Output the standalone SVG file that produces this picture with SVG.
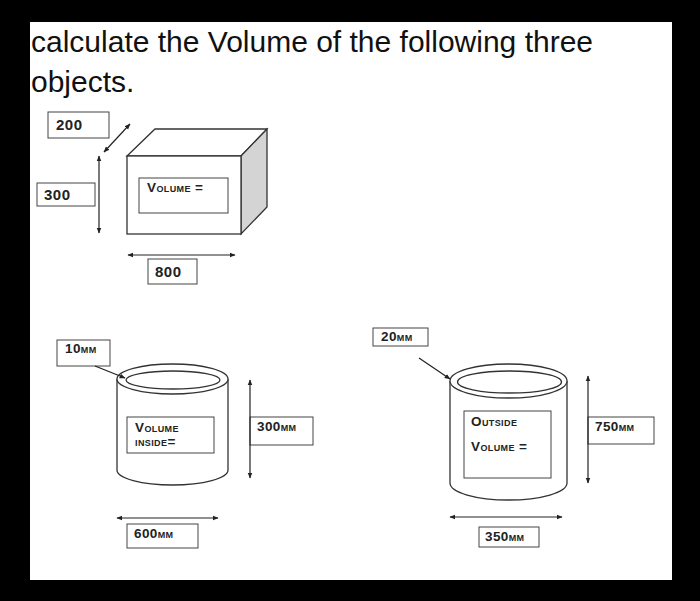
<svg xmlns="http://www.w3.org/2000/svg" width="700" height="601" viewBox="0 0 700 601">
<defs>
<marker id="ah" viewBox="0 0 10 10" refX="9" refY="5" markerWidth="5" markerHeight="5" orient="auto-start-reverse"><path d="M0,1 L10,5 L0,9 z" fill="#222"/></marker>
<style>
.s{fill:#fff;stroke:#333;stroke-width:1.3}
.l{fill:#fff;stroke:#444;stroke-width:1}
.t{font-family:"Liberation Sans",Arial,sans-serif;font-weight:bold;font-variant:small-caps;font-size:13.5px;letter-spacing:0.4px;fill:#222}
.n{font-family:"Liberation Sans",Arial,sans-serif;font-weight:bold;font-size:15px;letter-spacing:0.5px;fill:#222}
.a{stroke:#222;stroke-width:1.2;fill:none;marker-start:url(#ah);marker-end:url(#ah)}
.p{stroke:#222;stroke-width:1.2;fill:none;marker-end:url(#ah)}
</style>
</defs>
<rect width="700" height="601" fill="#000"/>
<rect x="30" y="22" width="642" height="558" fill="#fff"/>
<text x="31" y="52" font-family="Liberation Sans,Arial,sans-serif" font-size="30" fill="#111">calculate the Volume of the following three</text>
<text x="31" y="92" font-family="Liberation Sans,Arial,sans-serif" font-size="30" fill="#111">objects.</text>
<g id="box">
<path class="s" d="M127,156 L155,129 L267,129 L241,156 Z"/>
<path d="M241,156 L267,129 L267,207 L241,234 Z" fill="#d4d4d4" stroke="#333" stroke-width="1.3"/>
<rect class="s" x="127" y="156" width="114" height="78"/>
<rect class="l" x="139" y="178" width="89" height="35"/>
<text class="t" x="147" y="192">Volume =</text>
</g>
<g id="lbl200"><rect class="l" x="48" y="112" width="61" height="26"/><text class="n" x="56" y="130">200</text></g>
<g id="lbl300"><rect class="l" x="37" y="183" width="58" height="23"/><text class="n" x="44" y="200">300</text></g>
<g id="lbl800"><rect class="l" x="148" y="259" width="49" height="25"/><text class="n" x="155" y="277">800</text></g>
<g id="cyl1">
<path class="s" d="M117,379 L117,470 A55.5,15 0 0 0 228,470 L228,379"/>
<ellipse class="s" cx="172.5" cy="379" rx="55.5" ry="15"/>
<ellipse class="s" cx="173" cy="380" rx="47" ry="9"/>
<rect class="l" x="127" y="417" width="87" height="36"/>
<text class="t" x="135" y="432">Volume</text>
<text class="t" x="135" y="446">inside=</text>
</g>
<g id="lbl10"><rect class="l" x="57" y="340" width="53" height="26"/><text class="t" x="65" y="353">10mm</text></g>
<g id="lbl300mm"><rect class="l" x="250" y="417" width="63" height="28"/><text class="t" x="257" y="431">300mm</text></g>
<g id="lbl600"><rect class="l" x="127" y="524" width="71" height="24"/><text class="t" x="134" y="538">600mm</text></g>
<g id="cyl2">
<path class="s" d="M450,381 L450,483 A58.5,17 0 0 0 567,483 L567,381"/>
<ellipse class="s" cx="508.5" cy="381" rx="58.5" ry="17"/>
<ellipse class="s" cx="509.5" cy="382" rx="52" ry="11"/>
<rect class="l" x="464" y="411" width="87" height="67"/>
<text class="t" x="471" y="426">Outside</text>
<text class="t" x="471" y="451">Volume =</text>
</g>
<g id="lbl20"><rect class="l" x="373" y="328" width="55" height="18"/><text class="t" x="381" y="341">20mm</text></g>
<g id="lbl750"><rect class="l" x="588" y="417" width="66" height="27"/><text class="t" x="595" y="431">750mm</text></g>
<g id="lbl350"><rect class="l" x="479" y="527" width="60" height="20"/><text class="t" x="485" y="541">350mm</text></g>
<g id="connectors">
<line class="a" x1="104" y1="152" x2="130" y2="124"/>
<line class="a" x1="99" y1="156" x2="99" y2="233"/>
<line class="a" x1="128" y1="255" x2="235" y2="255"/>
<line class="p" x1="95" y1="366" x2="125" y2="378"/>
<line class="a" x1="250" y1="380" x2="250" y2="478"/>
<line class="a" x1="117" y1="518" x2="218" y2="518"/>
<line class="p" x1="419" y1="358" x2="450" y2="379"/>
<line class="a" x1="588" y1="376" x2="588" y2="483"/>
<line class="a" x1="450" y1="517" x2="562" y2="517"/>
</g>
</svg>
